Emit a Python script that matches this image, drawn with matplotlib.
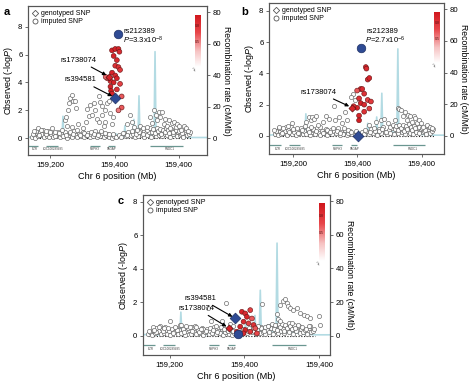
import numpy as np
import matplotlib
matplotlib.use("Agg")
import matplotlib.pyplot as plt
from matplotlib.colors import LinearSegmentedColormap
from matplotlib.lines import Line2D

plt.rcParams["font.family"] = ["Liberation Sans", "DejaVu Sans"]
plt.rcParams["mathtext.fontset"] = "custom"
plt.rcParams["mathtext.rm"] = "Liberation Sans"
plt.rcParams["mathtext.it"] = "Liberation Sans:italic"

# ----------------------------
# data (kb positions on chr 6, -log10 P)
# ----------------------------
xtick_labels = ["159,200", "159,400", "159,400"]

# SNPs with little association, shared background band
low_pos = [159142, 159148, 159153, 159157, 159161, 159166, 159170, 159174, 159179, 159183,
           159188, 159193, 159197, 159203, 159208, 159212, 159218, 159223, 159229, 159234,
           159240, 159246, 159251, 159257, 159262, 159268, 159273, 159279, 159284, 159290,
           159296, 159301, 159306, 159311, 159316, 159322, 159327, 159333, 159338, 159344,
           159349, 159355, 159361, 159366, 159372, 159378, 159384, 159391, 159398, 159405,
           159413, 159420, 159428, 159436, 159443, 159450, 159456, 159462, 159468, 159474,
           159479, 159485, 159491, 159497, 159502, 159508, 159513, 159518, 159523, 159528,
           159533, 159538, 159543, 159548, 159553, 159558, 159563, 159568, 159573, 159578,
           159583, 159588, 159593, 159598, 159603, 159608, 159614, 159620, 159626, 159632]
low_logp = [0.10, 0.25, 0.05, 0.35, 0.15, 0.45, 0.20, 0.30, 0.08, 0.40,
            0.18, 0.55, 0.12, 0.28, 0.06, 0.38, 0.22, 0.48, 0.10, 0.32,
            0.15, 0.42, 0.05, 0.26, 0.36, 0.12, 0.50, 0.20, 0.08, 0.34,
            0.16, 0.44, 0.06, 0.24, 0.38, 0.10, 0.30, 0.18, 0.52, 0.08,
            0.28, 0.14, 0.40, 0.06, 0.22, 0.34, 0.12, 0.05, 0.18, 0.08,
            0.25, 0.10, 0.35, 0.15, 0.45, 0.20, 0.30, 0.08, 0.42, 0.16,
            0.55, 0.24, 0.10, 0.36, 0.20, 0.48, 0.12, 0.60, 0.30, 0.18,
            0.52, 0.26, 0.40, 0.14, 0.58, 0.32, 0.22, 0.46, 0.10, 0.38,
            0.28, 0.50, 0.16, 0.42, 0.24, 0.34, 0.12, 0.44, 0.20, 0.30]
low2_pos = [159145, 159155, 159164, 159176, 159186, 159200, 159215, 159226, 159237, 159249,
            159260, 159271, 159282, 159293, 159304, 159314, 159325, 159336, 159347, 159358,
            159369, 159381, 159395, 159425, 159440, 159453, 159466, 159477, 159488, 159500,
            159511, 159516, 159521, 159526, 159531, 159536, 159541, 159546, 159551, 159556,
            159561, 159566, 159571, 159576, 159581, 159591, 159601, 159611, 159623, 159636]
low2_logp = [0.30, 0.50, 0.22, 0.58, 0.28, 0.46, 0.18, 0.36, 0.62, 0.24,
             0.44, 0.30, 0.56, 0.20, 0.40, 0.26, 0.48, 0.34, 0.22, 0.54,
             0.38, 0.28, 0.30, 0.40, 0.26, 0.52, 0.34, 0.46, 0.28, 0.58,
             0.70, 0.42, 0.64, 0.36, 0.72, 0.50, 0.68, 0.30, 0.62, 0.44,
             0.74, 0.56, 0.40, 0.66, 0.48, 0.60, 0.52, 0.38, 0.56, 0.42]

# panel a: elevated low-LD SNPs
a_pos = [159150, 159160, 159172, 159185, 159205, 159215, 159245, 159250, 159255, 159258,
         159262, 159266, 159270, 159275, 159280, 159252, 159268, 159285, 159300, 159310,
         159314, 159320, 159324, 159330, 159335, 159340, 159345, 159350, 159350, 159356,
         159361, 159361, 159366, 159371, 159371, 159376, 159382, 159387, 159392, 159395,
         159440, 159449, 159454, 159460, 159470, 159480, 159490, 159500, 159511, 159516,
         159522, 159528, 159533, 159537, 159542, 159548, 159553, 159558, 159563, 159568,
         159573, 159579, 159584, 159590, 159596, 159602, 159608, 159615, 159622, 159630]
a_logp = [0.55, 0.70, 0.60, 0.50, 0.75, 0.45, 1.30, 1.50, 2.00, 2.50,
          2.90, 3.10, 2.70, 2.70, 2.20, 0.90, 0.80, 1.00, 0.70, 1.20,
          2.10, 1.60, 2.40, 1.70, 2.50, 2.00, 1.40, 3.00, 1.20, 2.60,
          2.30, 1.70, 0.90, 2.00, 1.20, 2.50, 2.70, 1.80, 1.00, 1.50,
          1.00, 1.70, 1.20, 0.80, 0.60, 0.90, 0.70, 0.80, 1.55, 1.10,
          2.00, 1.70, 1.30, 1.90, 1.50, 1.90, 1.00, 1.40, 0.90, 1.30,
          0.70, 1.10, 1.20, 0.80, 1.00, 0.90, 0.60, 0.85, 0.70, 0.50]
# panel a: SNPs in LD with the lead SNP
a_red_pos = [159392, 159402, 159412, 159415, 159397, 159407, 159402, 159412, 159417, 159392,
             159402, 159407, 159387, 159397, 159377, 159387, 159389, 159392, 159417, 159407,
             159422, 159422, 159412, 159372]
a_red_logp = [6.3, 6.4, 6.4, 6.2, 5.9, 5.6, 5.2, 5.1, 4.9, 4.7,
              4.5, 4.3, 4.1, 4.0, 4.3, 3.7, 3.4, 3.2, 3.9, 3.5,
              3.0, 2.2, 2.0, 4.4]
a_red_r2 = [0.9, 0.9, 0.9, 0.85, 0.9, 0.85, 0.8, 0.8, 0.75, 0.9,
            0.85, 0.9, 0.8, 0.9, 0.6, 0.9, 0.95, 0.9, 0.7, 0.8,
            0.6, 0.6, 0.5, 0.55]

# panel b
b_pos = [159140, 159155, 159168, 159182, 159195, 159210, 159240, 159248, 159254, 159259,
         159264, 159270, 159256, 159276, 159292, 159302, 159312, 159327, 159331, 159341,
         159351, 159362, 159385, 159380, 159392, 159366, 159436, 159458, 159473, 159483,
         159496, 159516, 159525, 159530, 159536, 159542, 159547, 159553, 159558, 159564,
         159570, 159575, 159581, 159587, 159592, 159598, 159606, 159616, 159626, 159634]
b_logp = [0.40, 0.55, 0.50, 0.65, 0.80, 0.50, 0.90, 1.20, 1.00, 1.20,
          1.10, 1.30, 0.60, 0.70, 0.90, 1.30, 1.10, 1.90, 1.00, 1.20,
          0.80, 1.50, 2.70, 2.50, 2.30, 1.00, 0.70, 0.90, 1.00, 1.10,
          0.80, 1.00, 1.80, 1.70, 1.65, 1.30, 1.55, 1.00, 1.35, 1.25,
          0.90, 1.25, 1.15, 0.80, 1.00, 0.80, 0.60, 0.70, 0.60, 0.50]
b_red_pos = [159426, 159428, 159432, 159437, 159410, 159415, 159399, 159421, 159405, 159432,
             159442, 159410, 159421, 159399, 159388, 159405, 159405, 159421, 159437]
b_red_logp = [4.4, 4.3, 3.6, 3.7, 3.0, 3.0, 2.9, 2.7, 2.4, 2.3,
              2.2, 2.1, 2.0, 1.8, 1.9, 1.3, 1.0, 1.55, 1.75]
b_red_r2 = [0.9, 0.85, 0.85, 0.9, 0.9, 0.85, 0.6, 0.8, 0.8, 0.7,
            0.75, 0.9, 0.85, 0.9, 0.8, 0.9, 0.95, 0.8, 0.7]

# panel c
c_pos = [159160, 159175, 159190, 159207, 159220, 159240, 159255, 159265, 159285, 159300,
         159321, 159328, 159345, 159362, 159374, 159385, 159395, 159470, 159481, 159490,
         159500, 159525, 159530, 159535, 159545, 159549, 159535, 159555, 159560, 159565,
         159572, 159575, 159585, 159590, 159595, 159605, 159615, 159620, 159625, 159650,
         159655]
c_logp = [0.35, 0.50, 0.45, 0.85, 0.55, 0.65, 0.60, 0.50, 0.55, 0.40,
          1.65, 0.85, 0.60, 0.85, 1.95, 0.70, 0.60, 0.60, 1.90, 0.50,
          0.60, 1.30, 1.00, 0.85, 2.10, 2.20, 1.85, 1.95, 1.75, 1.65,
          0.75, 1.55, 1.65, 0.65, 1.35, 1.25, 1.15, 0.60, 1.05, 1.15,
          0.65]
c_red_pos = [159421, 159431, 159446, 159436, 159451, 159426, 159441, 159456, 159416, 159431,
             159446, 159461, 159406, 159426, 159466]
c_red_logp = [1.43, 1.33, 1.53, 1.13, 1.03, 0.84, 0.74, 0.64, 0.54, 0.34,
              0.24, 0.44, 0.24, 0.14, 0.14]
c_red_r2 = [0.9, 0.85, 0.7, 0.9, 0.6, 0.85, 0.7, 0.8, 0.9, 0.9,
            0.75, 0.6, 0.9, 0.85, 0.65]

# highlighted SNPs, one value per panel (a, b, c)
rs212389_pos = 159410
rs212389_logp = [7.5, 5.6, 0.1]
rs212389_p = ["3.3x10$^{-8}$", "2.7x10$^{-6}$", None]
rs394581_pos = 159402
rs394581_logp = [2.9, 0.0, 1.03]
rs1738074_pos = 159384
rs1738074_logp = [4.4, 1.8, 0.44]

# recombination rate (cM/Mb)
rec_pos = [159125, 159150, 159170, 159200, 159225, 159236, 159239, 159242, 159260, 159275,
           159300, 159330, 159360, 159380, 159400, 159420, 159429, 159432, 159435, 159450,
           159457, 159460, 159463, 159470, 159473, 159476, 159479, 159500, 159520, 159523,
           159526, 159529, 159540, 159570, 159600, 159640, 159690]
rec_rate = [0.5, 1.0, 0.5, 1.5, 2.0, 1.0, 14.0, 1.0, 3.0, 1.0,
            0.5, 1.0, 2.0, 1.0, 3.0, 1.5, 1.0, 8.0, 1.0, 2.0,
            1.5, 12.0, 2.0, 2.0, 3.0, 27.0, 2.0, 3.0, 2.0, 4.0,
            55.0, 4.0, 1.5, 2.0, 1.0, 0.5, 0.5]

# genes
gene_names = ["EZR", "LOC100289495", "RSPH3", "TAGAP", "FNDC1"]
gene_start = [159100, 159185, 159322, 159379, 159510]
gene_end = [159162, 159222, 159353, 159400, 159612]
gene_label_x = [159150, 159207, 159338, 159392, 159572]

baseline_x = [159140, 159640]

# ----------------------------
# layout
# ----------------------------
W, H = 474, 386
panel_px = {"a": (28, 6, 207, 155), "b": (269, 3, 444, 154), "c": (143, 195, 330, 355)}
panel_xlim = {"a": (159130, 159688), "b": (159124, 159670), "c": (159126, 159684)}
panel_ylim = {"a": (-1.2, 9.48), "b": (-1.15, 8.49), "c": (-1.15, 8.4)}
rec_ylim = {"a": (-10.6, 84), "b": (-11.4, 84), "c": (-11.5, 83.6)}
xtick_pos = {"a": [159200, 159400, 159600], "b": [159200, 159400, 159600],
             "c": [159206, 159428, 159651]}
cbar_rect = {"a": [0.933, 0.59, 0.028, 0.35], "b": [0.945, 0.60, 0.03, 0.34],
             "c": [0.941, 0.59, 0.027, 0.36]}
label_px = {"a": (4, 12), "b": (241, 12), "c": (118, 201)}

ld_cmap = LinearSegmentedColormap.from_list(
    "ld", [(0, "#ffffff"), (0.3, "#f6c2c2"), (0.65, "#e8464a"), (1, "#d0161c")])

FRAME = "#555555"
REC = "#b3dbe3"
GENE = "#6a9690"


def px_rect(left, top, right, bottom):
    return [left / W, 1 - bottom / H, (right - left) / W, (bottom - top) / H]


def draw_panel(fig, key, i, pos, logp, red_pos, red_logp, red_r2, annots):
    ax = fig.add_axes(px_rect(*panel_px[key]))
    ax2 = ax.twinx()
    ax.set_zorder(ax2.get_zorder() + 1)
    ax.patch.set_visible(False)

    # recombination rate
    ax2.plot(rec_pos, rec_rate, color=REC, lw=1.2, zorder=1)
    ax2.set_ylim(*rec_ylim[key])
    ax2.set_yticks([0, 20, 40, 60, 80])
    ax2.set_ylabel("Recombination rate (cM/Mb)", rotation=270, fontsize=6.2, labelpad=7)

    # association
    ax.plot(baseline_x, [0, 0], ls=(0, (1, 1.5)), color="#222222", lw=0.8, zorder=2)
    pt = dict(s=9, facecolors="white", edgecolors="#606060", linewidths=0.45, zorder=3)
    ax.scatter(low_pos, low_logp, **pt)
    ax.scatter(low2_pos, low2_logp, **pt)
    ax.scatter(pos, logp, **pt)
    ax.scatter(red_pos, red_logp, s=12, c=red_r2, cmap=ld_cmap, vmin=0, vmax=1,
               edgecolors="#6e1a1a", linewidths=0.45, zorder=4)
    ax.scatter([rs1738074_pos], [rs1738074_logp[i]], s=13, marker="D", c=[0.9],
               cmap=ld_cmap, vmin=0, vmax=1, edgecolors="#5a1010", linewidths=0.5, zorder=5)
    ax.scatter([rs394581_pos], [rs394581_logp[i]], s=30, marker="D", color="#2f4b94",
               edgecolors="#1d2f63", linewidths=0.5, zorder=6)
    ax.scatter([rs212389_pos], [rs212389_logp[i]], s=38, marker="o", color="#2f4b94",
               edgecolors="#1d2f63", linewidths=0.5, zorder=6)

    # gene track
    for name, g0, g1, gx in zip(gene_names, gene_start, gene_end, gene_label_x):
        ax.plot([g0, g1], [-0.55, -0.55], color=GENE, lw=0.9, solid_capstyle="butt", zorder=2)
        ax.text(gx, -0.8, name, fontsize=2.2, color="#444444", ha="center", va="center")

    # labels for SNPs
    if rs212389_p[i] is not None:
        tx, ty = annots["rs212389"]
        ax.text(tx, ty, "rs212389", fontsize=5.5, ha="left", va="center")
        ax.text(tx - 3, ty - 0.62 * (panel_ylim[key][1] / 9.0), "$P$=" + rs212389_p[i],
                fontsize=5.5, ha="left", va="center")
    arrow = dict(arrowstyle="-|>", color="black", lw=0.8, mutation_scale=5,
                 shrinkA=1, shrinkB=2.5)
    if "rs1738074" in annots:
        ax.annotate("rs1738074", xy=(rs1738074_pos, rs1738074_logp[i]),
                    xytext=annots["rs1738074"], fontsize=5.5, ha="right", va="center",
                    arrowprops=arrow, zorder=7)
    if "rs394581" in annots:
        ax.annotate("rs394581", xy=(rs394581_pos, rs394581_logp[i]),
                    xytext=annots["rs394581"], fontsize=5.5, ha="right", va="center",
                    arrowprops=arrow, zorder=7)

    # axes
    ax.set_xlim(*panel_xlim[key])
    ax.set_ylim(*panel_ylim[key])
    ax.set_yticks([0, 2, 4, 6, 8])
    ax.set_xticks(xtick_pos[key])
    ax.set_xticklabels(xtick_labels)
    ax.set_ylabel("Observed (-log$P$)", fontsize=6.4, labelpad=2)
    ax.set_xlabel("Chr 6 position (Mb)", fontsize=6.6, labelpad=3)
    for a in (ax, ax2):
        a.tick_params(labelsize=5.6, length=2.5, width=0.6, color=FRAME, pad=1.5)
        for sp in a.spines.values():
            sp.set_color(FRAME)
            sp.set_linewidth(0.8)

    handles = [Line2D([], [], marker="D", ls="", ms=3.2, mfc="white", mec="#555555", mew=0.6),
               Line2D([], [], marker="o", ls="", ms=3.6, mfc="white", mec="#555555", mew=0.6)]
    ax.legend(handles, ["genotyped SNP", "imputed SNP"], loc="upper left", frameon=False,
              fontsize=5, handlelength=0.8, handletextpad=0.5, labelspacing=0.15,
              borderaxespad=0.3, borderpad=0.3)

    # r2 colour bar
    cax = ax.inset_axes(cbar_rect[key])
    cax.imshow(np.linspace(0, 1, 100)[:, None], aspect="auto", origin="lower",
               cmap=ld_cmap, extent=[0, 1, 0, 1])
    cax.set_axis_off()
    cax.text(0.5, 0.78, "0.8", fontsize=2.6, ha="center", va="center", color="#5a1010")
    cax.text(0.5, 0.48, "0.5", fontsize=2.6, ha="center", va="center", color="#5a1010")
    cax.text(0.3, -0.05, "r$^2$", fontsize=2.8, ha="center", va="center", color="#333333",
             rotation=60)

    lx, ly = label_px[key]
    fig.text(lx / W, 1 - ly / H, key, fontsize=8, fontweight="bold", ha="left", va="center")
    return ax


fig = plt.figure(figsize=(W / 100, H / 100), dpi=100)

draw_panel(fig, "a", 0, a_pos, a_logp, a_red_pos, a_red_logp, a_red_r2,
           {"rs212389": (159428, 7.64), "rs1738074": (159343, 5.6),
            "rs394581": (159343, 4.18)})
draw_panel(fig, "b", 1, b_pos, b_logp, b_red_pos, b_red_logp, b_red_r2,
           {"rs212389": (159427, 6.66), "rs1738074": (159335, 2.8)})
draw_panel(fig, "c", 2, c_pos, c_logp, c_red_pos, c_red_logp, c_red_r2,
           {"rs394581": (159345, 2.23), "rs1738074": (159340, 1.63)})

fig.savefig("out.png", dpi=100)
